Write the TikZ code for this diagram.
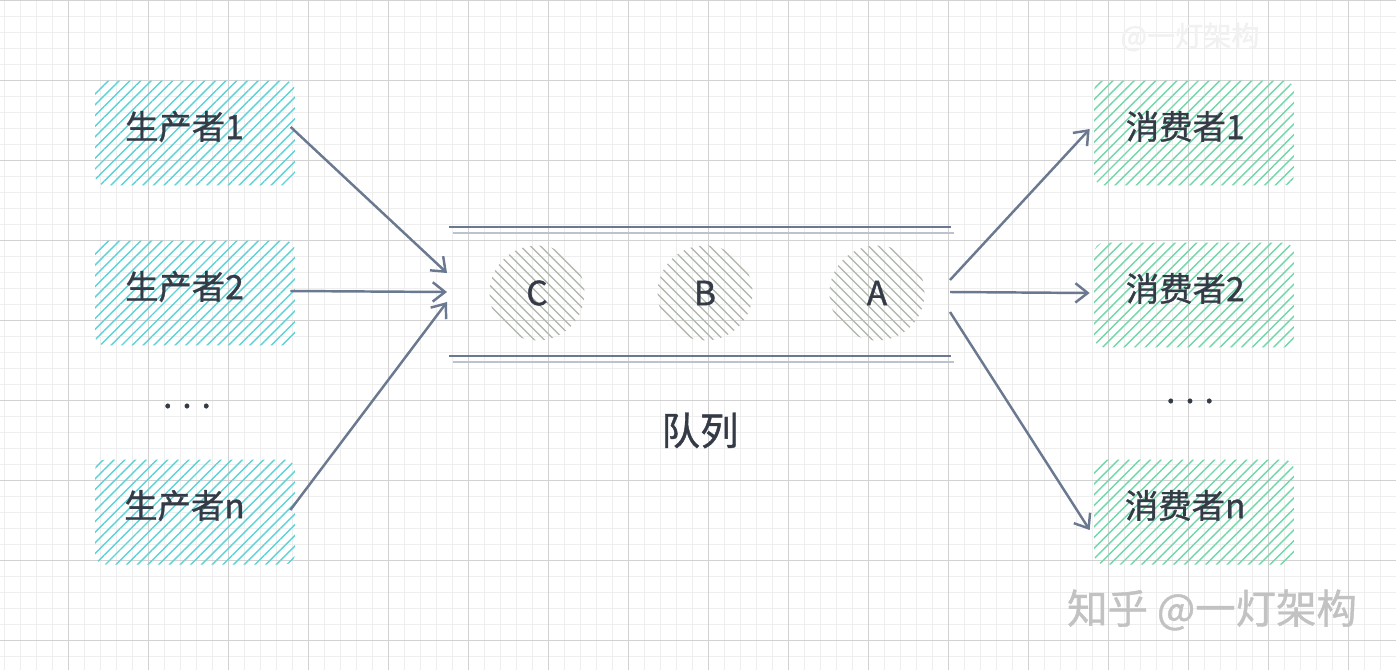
\documentclass[tikz,border=0pt]{standalone}
\usepackage{fontspec}
\newfontfamily\cjk{Noto Sans CJK SC}[FakeBold=1]
\usetikzlibrary{positioning,patterns.meta,arrows.meta}
\definecolor{inkgray}{HTML}{343B47}
\definecolor{arrowblue}{HTML}{6B7990}
\definecolor{gridminor}{HTML}{EEEEEE}
\definecolor{gridmajor}{HTML}{D2D2D2}
\definecolor{prodcyan}{HTML}{5CD3D6}
\definecolor{consgreen}{HTML}{6FD8A8}
\definecolor{ballgray}{HTML}{B5BDB0}
\definecolor{markgray}{HTML}{C2C2C2}
\definecolor{faintgray}{HTML}{F1F1F1}

\begin{document}
\begin{tikzpicture}[x=0.02cm, y=-0.02cm,
  every node/.style={font=\cjk\fontsize{19}{21}\selectfont, text=inkgray},
  prodbox/.style={rounded corners=6pt, minimum width=4cm, minimum height=2.1cm, text depth=9pt,
    pattern={Lines[angle=45,distance=4.3pt,line width=0.8pt]}, pattern color=prodcyan},
  consbox/.style={prodbox, pattern color=consgreen},
  ball/.style={circle, minimum size=1.9cm,
    pattern={Lines[angle=-45,distance=4pt,line width=0.9pt]}, pattern color=ballgray},
  flow/.style={draw=arrowblue, line width=1.4pt, -{Straight Barb[length=7pt,width=11pt]}},
  rail/.style={draw=arrowblue, line width=1.3pt},
  railshade/.style={draw=arrowblue!45, line width=1pt}]
  % page and grid
  \fill[white] (0,0) rectangle (1396,670);
  \useasboundingbox (0,0) rectangle (1396,670);
  \foreach \x in {4,20,...,1396} \draw[gridminor] (\x,0) -- (\x,670);
  \foreach \y in {16,32,...,670} \draw[gridminor] (0,\y) -- (1396,\y);
  \foreach \x in {68,148,...,1396} \draw[gridmajor] (\x,0) -- (\x,670);
  \foreach \y in {0,80,...,670} \draw[gridmajor] (0,\y) -- (1396,\y);

  % producers
  \node[prodbox] (p1) at (195,133) {\hspace*{-12pt}生产者1};
  \node[prodbox] (p2) at (195,293) {\hspace*{-12pt}生产者2};
  \node (pdots) at (187,406) {. . .};
  \node[prodbox] (pn) at (195,512) {\hspace*{-12pt}生产者n};

  % consumers
  \node[consbox] (c1) at (1194,133) {\hspace*{-10pt}消费者1};
  \node[consbox] (c2) at (1194,295) {\hspace*{-10pt}消费者2};
  \node (cdots) at (1190,401) {. . .};
  \node[consbox] (cn) at (1194,512) {\hspace*{-10pt}消费者n};

  % queue
  \node[minimum width=10.04cm, minimum height=2.58cm, inner sep=0pt] (queue) at (700,291.5) {};
  \draw[rail] (queue.north west) -- (queue.north east);
  \draw[railshade] ([shift={(4,6)}]queue.north west) -- ([shift={(3,6)}]queue.north east);
  \draw[rail] (queue.south west) -- (queue.south east);
  \draw[railshade] ([shift={(4,6)}]queue.south west) -- ([shift={(3,6)}]queue.south east);
  \node[ball] (ballc) at (537,293) {C};
  \node[ball] (ballb) at (705,293) {B};
  \node[ball] (balla) at (877,293) {A};
  \node[below=1cm of queue, font=\cjk\fontsize{22}{24}\selectfont] (qlabel) {队列};

  % arrows
  \coordinate (in1) at (447,273);
  \coordinate (in2) at (447,292);
  \coordinate (in3) at (447,302);
  \coordinate (out1) at (950,280);
  \coordinate (out2) at (950,292);
  \coordinate (out3) at (950,312);
  \draw[flow] ([shift={(-5,-6)}]p1.east) -- (in1);
  \draw[flow] ([shift={(-5,-2)}]p2.east) -- (in2);
  \draw[flow] ([shift={(-5,-2)}]pn.east) -- (in3);
  \draw[flow] (out1) -- ([shift={(-4,-4)}]c1.west);
  \draw[flow] (out2) -- ([shift={(-4,-2)}]c2.west);
  \draw[flow] (out3) -- ([shift={(-4,18)}]cn.west);

  % watermarks
  \node[font=\cjk\fontsize{23}{25}\selectfont, text=markgray] (mark) at (1212,610) {知乎 @一灯架构};
  \node[font=\cjk\fontsize{16}{18}\selectfont, text=faintgray] (topmark) at (1190,37) {@一灯架构};
\end{tikzpicture}
\end{document}
